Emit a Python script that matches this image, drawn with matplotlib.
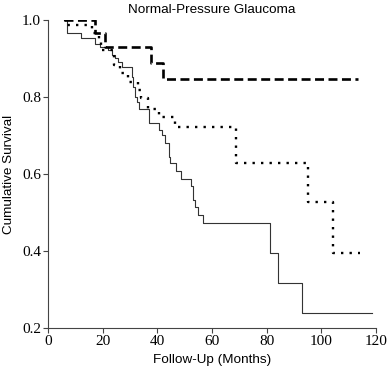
import numpy as np
import matplotlib
matplotlib.use("Agg")
from matplotlib import pyplot as plt

# Kaplan-Meier style step curves (months, survival)
solid_t = [6, 7, 12.2, 17.1, 18.9, 22, 23.3, 24.5, 25.7, 27, 30.6, 31, 31.8,
           32.5, 33.2, 37, 40.6, 41.8, 42.7, 44.2, 44.8, 47, 48.8, 52.5, 53.1,
           53.6, 54.9, 56.8, 81.2, 84.2, 92.8, 118.4]
solid_s = [1.0, 0.965, 0.953, 0.937, 0.931, 0.922, 0.909, 0.900, 0.892, 0.879,
           0.853, 0.827, 0.800, 0.788, 0.768, 0.733, 0.714, 0.701, 0.681, 0.645,
           0.628, 0.609, 0.586, 0.569, 0.532, 0.515, 0.494, 0.472, 0.396, 0.316,
           0.238, 0.238]

dotted_t = [6, 6.6, 16, 18.5, 19.5, 24.3, 26.3, 29.3, 33, 34.2, 36.6, 40.5,
            46.4, 68.6, 95.2, 104.3, 114.2]
dotted_s = [1.0, 0.987, 0.965, 0.944, 0.922, 0.883, 0.862, 0.840, 0.818, 0.797,
            0.770, 0.749, 0.722, 0.628, 0.528, 0.394, 0.394]

dashed_t = [6, 17.2, 20.8, 37.8, 42, 113.5]
dashed_s = [1.0, 0.965, 0.931, 0.889, 0.847, 0.847]

x_ticks = [0, 20, 40, 60, 80, 100, 120]
y_ticks = [0.2, 0.4, 0.6, 0.8, 1.0]

fig = plt.figure(figsize=(3.87, 3.73), dpi=100)
ax = fig.add_axes([0.124, 0.1206, 0.8476, 0.8258])

ax.plot(solid_t, solid_s, drawstyle="steps-post", color="#333333", lw=0.8)
ax.plot(dotted_t, dotted_s, drawstyle="steps-post", color="black", lw=1.7,
        linestyle=(0, (1, 2.6)), dash_capstyle="butt")
ax.plot(dashed_t, dashed_s, drawstyle="steps-post", color="black", lw=1.9,
        linestyle=(0, (3.4, 1.7)))

ax.set_xlim(0, 120)
ax.set_ylim(0.2, 1.0)
ax.set_xticks(x_ticks)
ax.set_yticks(y_ticks)
ax.set_xticklabels([str(v) for v in x_ticks], family="Liberation Serif", fontsize=11)
ax.set_yticklabels([f"{v:.1f}" for v in y_ticks], family="Liberation Serif", fontsize=11)
ax.tick_params(direction="out", length=3.5, width=0.8, color="#444444", pad=1.5)

for side in ["top", "right"]:
    ax.spines[side].set_visible(False)
for side in ["left", "bottom"]:
    ax.spines[side].set_color("#444444")
    ax.spines[side].set_linewidth(0.8)

ax.set_xlabel("Follow-Up (Months)", family="Liberation Sans", fontsize=9.7, labelpad=4)
ax.set_ylabel("Cumulative Survival", family="Liberation Sans", fontsize=9.7, labelpad=5)
ax.set_title("Normal-Pressure Glaucoma", family="Liberation Sans", fontsize=9.7, pad=5)

fig.savefig("out.png", dpi=100)
